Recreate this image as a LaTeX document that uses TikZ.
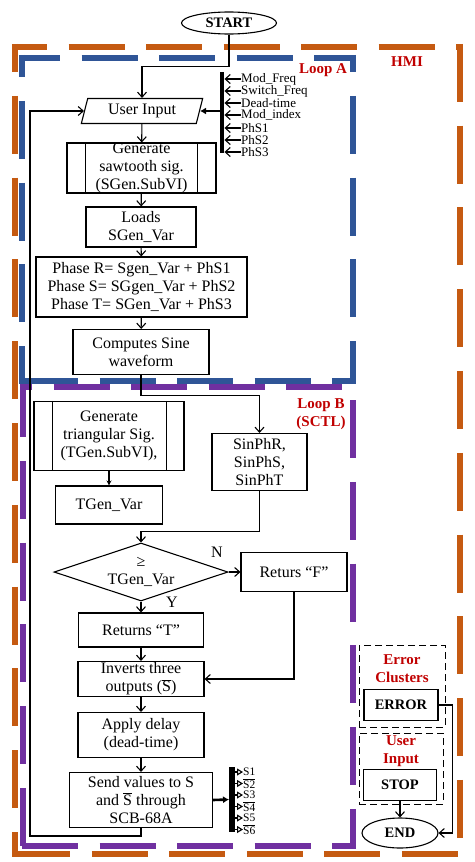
\documentclass[tikz,border=0pt]{standalone}
\usepackage{fontspec}
\setmainfont{Liberation Serif}
\usepackage{tikz}
\usetikzlibrary{shapes.geometric, arrows.meta}
\definecolor{hmiorange}{RGB}{197,90,17}
\definecolor{loopblue}{RGB}{47,85,151}
\definecolor{looppurple}{RGB}{112,48,160}
\definecolor{labelred}{RGB}{192,0,0}

\begin{document}
\begin{tikzpicture}[x=1pt, y=-1pt,
            font=\fontsize{16}{18}\selectfont,
            box/.style={draw, line width=1.1pt, align=center, inner sep=0pt},
            grpbox/.style={draw, line width=1pt, dash pattern=on 7pt off 4pt, inner sep=0pt},
            loopline/.style={line width=6.5pt},
            hdash/.style={dash pattern=on 56pt off 21.5pt},
            vdash/.style={dash pattern=on 58pt off 23.8pt},
            redlbl/.style={text=labelred, align=center, font=\fontsize{15}{18}\selectfont\bfseries},
            boldtxt/.style={font=\fontsize{14.5}{17}\selectfont\bfseries},
            sig/.style={inner sep=0pt, anchor=west, font=\fontsize{13}{13}\selectfont},
            outsig/.style={inner sep=0pt, anchor=west, font=\fontsize{11.5}{11.5}\selectfont},
            arr/.style={line width=1.1pt, -{Straight Barb[length=5pt, width=9pt]}},
            busarr/.style={line width=2.6pt, -{Latex[length=6pt, width=7pt]}},
            outarr/.style={line width=1.1pt, -{Triangle[open, length=6pt, width=7pt]}}]
            \useasboundingbox (0,0) rectangle (474,862);
            % HMI frame
            \draw[loopline, hdash, hmiorange, dash phase=20.75pt] (11.75,47) -- (463.25,47);
            \draw[loopline, vdash, hmiorange] (460,43.75) -- (460,857.25);
            \draw[loopline, hdash, hmiorange, dash phase=75pt] (11.75,854) -- (463.25,854);
            \draw[loopline, vdash, hmiorange, dash phase=29.75pt] (15,43.75) -- (15,857.25);
            % loop A frame
            \draw[loopline, hdash, loopblue, dash phase=14.75pt] (18.75,58) -- (356.25,58);
            \draw[loopline, vdash, loopblue, dash phase=40.75pt] (353,54.75) -- (353,384.25);
            \draw[loopline, hdash, loopblue, dash phase=74.25pt] (18.75,381) -- (356.25,381);
            \draw[loopline, vdash, loopblue, dash phase=35.75pt] (22,54.75) -- (22,384.25);
            % loop B frame
            \draw[loopline, hdash, looppurple, dash phase=43.75pt] (19.75,387) -- (356.25,387);
            \draw[loopline, vdash, looppurple, dash phase=65.55pt] (353,383.75) -- (353,849.25);
            \draw[loopline, hdash, looppurple, dash phase=75.25pt] (19.75,846) -- (356.25,846);
            \draw[loopline, vdash, looppurple, dash phase=4.75pt] (23,383.75) -- (23,849.25);
            \node[redlbl] (hmi) at (407,62) {HMI};
            \node[redlbl] (loopa) at (323,70) {Loop A};
            \node[redlbl] (loopb) at (321,414) {Loop B\\(SCTL)};
            % loop A
            \node[box, ellipse, boldtxt, minimum width=95pt, minimum height=22pt] (start) at (229,23) {START};
            \node[box, trapezium, trapezium left angle=74, trapezium right angle=106, trapezium stretches=true,
                  minimum width=122pt, minimum height=25pt] (userin) at (142,111) {User Input};
            \node[box, minimum width=149pt, minimum height=50pt] (sgen) at (141.5,168) {Generate\\sawtooth sig.\\(SGen.SubVI)};
            \node[box, minimum width=110pt, minimum height=40pt] (loads) at (141,227) {Loads\\SGen\_Var};
            \node[box, minimum width=211pt, minimum height=60pt] (phase) at (141.5,287) {Phase R= Sgen\_Var + PhS1\\Phase S= SGgen\_Var + PhS2\\Phase T= SGen\_Var + PhS3};
            \node[box, minimum width=136pt, minimum height=45pt] (sine) at (141,352) {Computes Sine\\waveform};
            \draw[line width=1.1pt] ([xshift=19pt]sgen.north west) -- ([xshift=19pt]sgen.south west);
            \draw[line width=1.1pt] ([xshift=-19pt]sgen.north east) -- ([xshift=-19pt]sgen.south east);
            % input bus
            \node[fill, minimum width=4.5pt, minimum height=81pt, inner sep=0pt] (inbus) at (222,112.5) {};
            \node[sig] (modfreq) at (241,79) {Mod\_Freq};
            \node[sig] (swfreq) at (241,91) {Switch\_Freq};
            \node[sig] (dtime) at (241,103) {Dead-time};
            \node[sig] (modidx) at (241,115) {Mod\_index};
            \node[sig] (phsa) at (241,128) {PhS1};
            \node[sig] (phsb) at (241,140) {PhS2};
            \node[sig] (phsc) at (241,152) {PhS3};
            \draw[arr] (modfreq.west) -- (modfreq.west -| inbus.east);
            \draw[arr] (swfreq.west) -- (swfreq.west -| inbus.east);
            \draw[arr] (dtime.west) -- (dtime.west -| inbus.east);
            \draw[arr] (modidx.west) -- (modidx.west -| inbus.east);
            \draw[arr] (phsa.west) -- (phsa.west -| inbus.east);
            \draw[arr] (phsb.west) -- (phsb.west -| inbus.east);
            \draw[arr] (phsc.west) -- (phsc.west -| inbus.east);
            \draw[busarr] (inbus.west |- userin.east) -- (userin.east);
            \draw[arr] (start.south) -- ++(0,32) -| (userin.north);
            \draw[arr] (userin) -- (sgen);
            \draw[arr] (sgen) -- (loads);
            \draw[arr] (loads) -- (phase);
            \draw[arr] (phase) -- (sine);
            % loop B
            \node[box, minimum width=150pt, minimum height=69pt] (tgen) at (109,436) {Generate\\triangular Sig.\\(TGen.SubVI),};
            \draw[line width=1.1pt] ([xshift=19pt]tgen.north west) -- ([xshift=19pt]tgen.south west);
            \draw[line width=1.1pt] ([xshift=-18pt]tgen.north east) -- ([xshift=-18pt]tgen.south east);
            \node[box, minimum width=107pt, minimum height=38pt] (tvar) at (109,505) {TGen\_Var};
            \node[box, minimum width=95pt, minimum height=57pt] (sinph) at (259.5,462) {SinPhR,\\SinPhS,\\SinPhT};
            \node[box, diamond, aspect=3, minimum width=174pt, minimum height=58pt] (cmp) at (141,572) {≥\\TGen\_Var};
            \node[box, minimum width=106pt, minimum height=39pt] (retf) at (294,572) {Returs ``F''};
            \node[box, minimum width=125pt, minimum height=34pt] (rett) at (141,630) {Returns ``T''};
            \node[box, minimum width=126pt, minimum height=35pt] (inv) at (141,679) {Inverts three\\outputs ($\overline{\mbox{S}}$)};
            \node[box, minimum width=126pt, minimum height=45pt] (delay) at (141,735) {Apply delay\\(dead-time)};
            \node[box, minimum width=143pt, minimum height=55pt] (send) at (141,800) {Send values to S\\and $\overline{\mbox{S}}$ through\\SCB-68A};
            \node (nlbl) at (217,552) {N};
            \node (ylbl) at (172,602) {Y};
            \draw[arr] (sine.south) -- ++(0,20) -| (sinph.north);
            \draw[line width=1.1pt, -{Stealth[length=5pt, width=5pt]}] (tgen) -- (tvar);
            \draw[arr] (sinph.south) -- ++(0,40) -| (cmp.north);
            \draw[arr] (cmp.east) -- (retf.west);
            \draw[arr] (cmp.south) -- (rett.north);
            \draw[arr] (retf.south) |- (inv.east);
            \draw[arr] (rett) -- (inv);
            \draw[arr] (inv) -- (delay);
            \draw[arr] (delay) -- (send);
            \coordinate (back) at (30,836);
            \draw[arr] (send.south) |- (back) |- (userin.west);
            % output bus
            \node[fill, minimum width=5.5pt, minimum height=65pt, inner sep=0pt] (outbus) at (232,799.5) {};
            \node[outsig] (sa) at (243,772) {S1};
            \node[outsig] (sb) at (243,783.5) {$\overline{\mbox{S2}}$};
            \node[outsig] (sc) at (243,795) {S3};
            \node[outsig] (sd) at (243,806.5) {$\overline{\mbox{S4}}$};
            \node[outsig] (se) at (243,818) {S5};
            \node[outsig] (sf) at (243,829.5) {$\overline{\mbox{S6}}$};
            \draw[outarr] (outbus.east |- sa.west) -- (sa.west);
            \draw[outarr] (outbus.east |- sb.west) -- (sb.west);
            \draw[outarr] (outbus.east |- sc.west) -- (sc.west);
            \draw[outarr] (outbus.east |- sd.west) -- (sd.west);
            \draw[outarr] (outbus.east |- se.west) -- (se.west);
            \draw[outarr] (outbus.east |- sf.west) -- (sf.west);
            \draw[busarr] (send.east) -- (outbus.west);
            % error clusters and stop
            \node[grpbox, minimum width=86pt, minimum height=82pt] (errgrp) at (402,686) {};
            \node[redlbl] (errlbl) at (402,669) {Error\\Clusters};
            \node[box, boldtxt, minimum width=74pt, minimum height=31pt] (err) at (401,705) {ERROR};
            \node[grpbox, minimum width=84pt, minimum height=71pt] (usrgrp) at (401,768.5) {};
            \node[redlbl] (usrlbl) at (401,751) {User\\Input};
            \node[box, boldtxt, minimum width=73pt, minimum height=31pt] (stop) at (400,785) {STOP};
            \node[box, ellipse, boldtxt, minimum width=76pt, minimum height=30pt] (finish) at (400,833) {END};
            \draw[arr] (stop) -- (finish);
            \draw[arr] (err.east) -- ++(14,0) |- (finish.east);
        \end{tikzpicture}
\end{document}
